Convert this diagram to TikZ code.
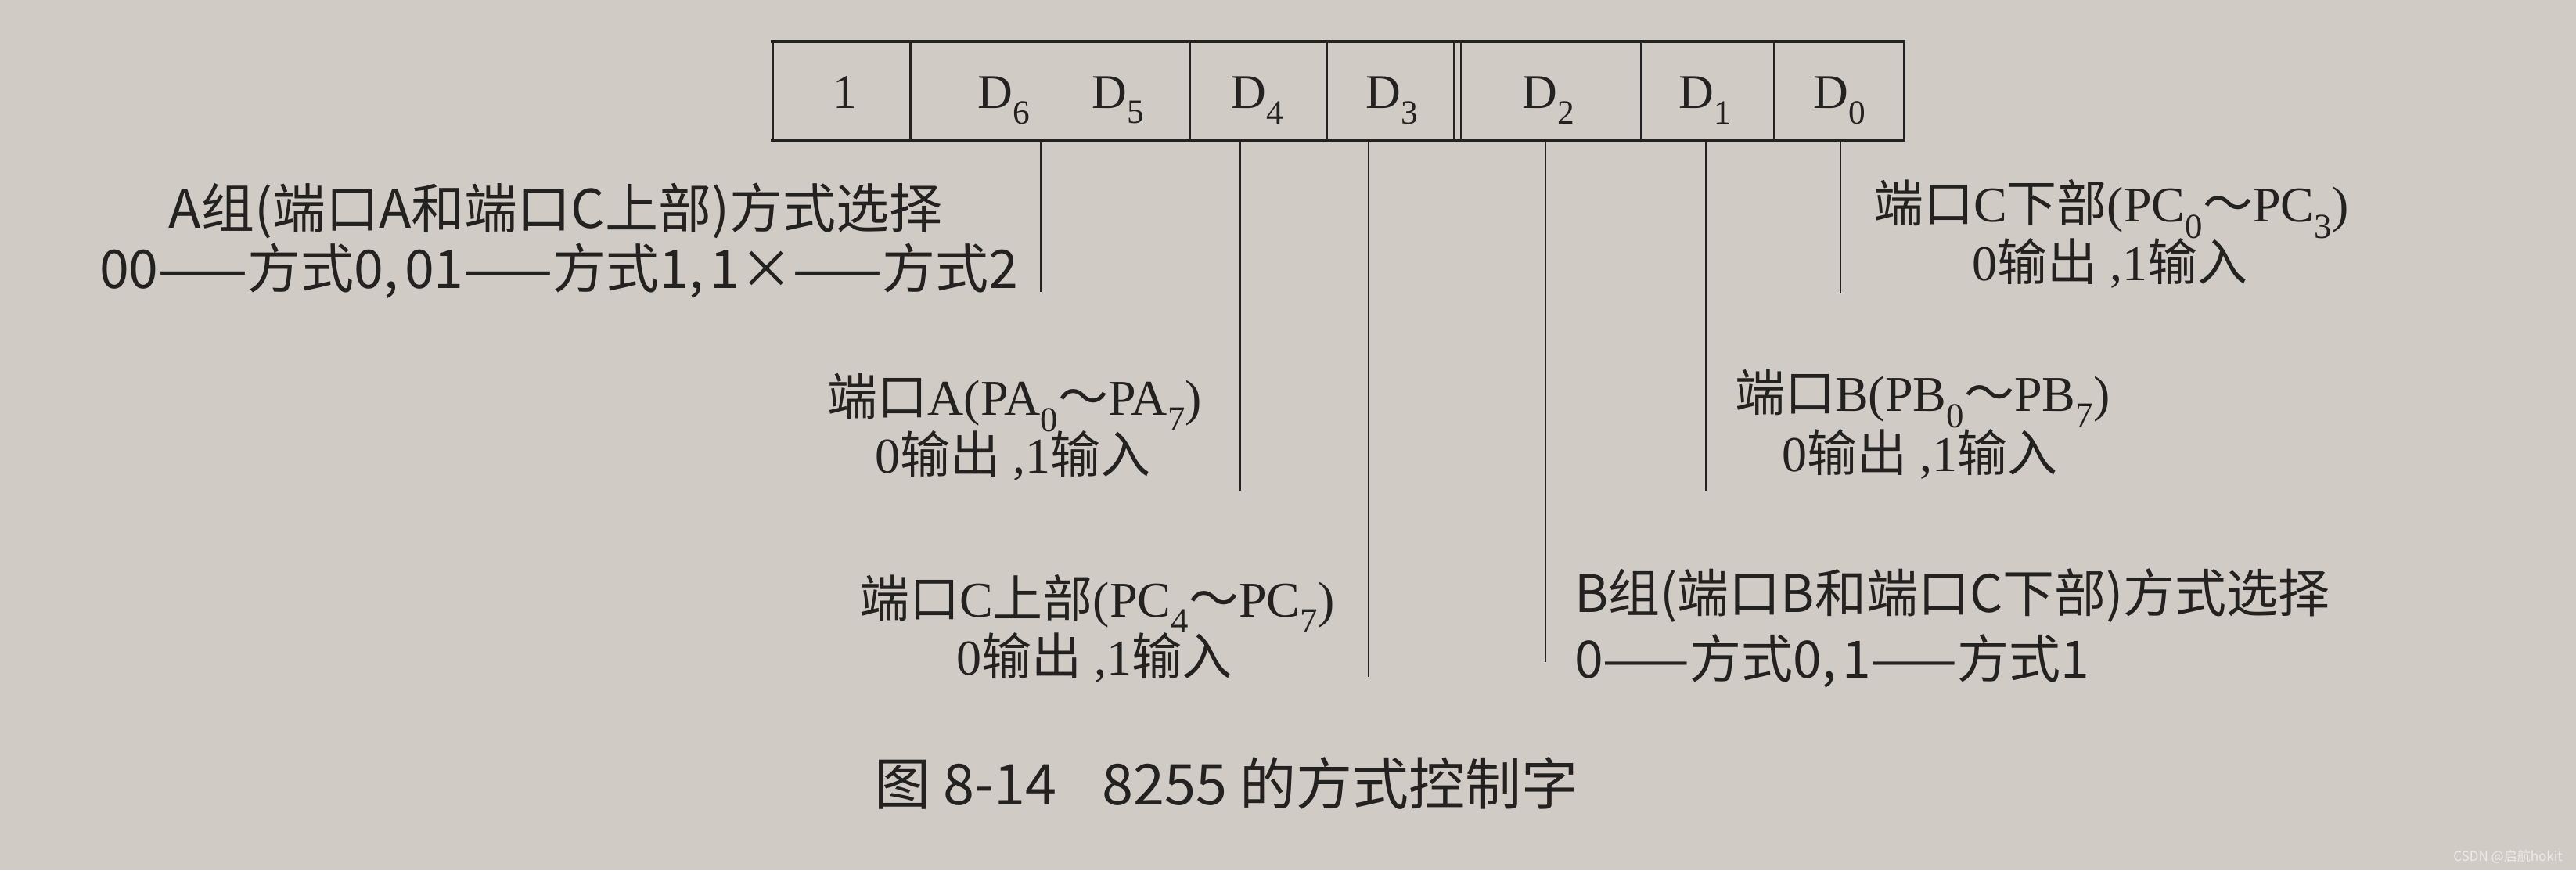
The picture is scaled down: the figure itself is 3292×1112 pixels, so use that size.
\documentclass[tikz,border=0pt]{standalone}
\usepackage{fontspec}
\setmainfont{Liberation Serif}
\newfontfamily\cjk{Noto Sans CJK SC}
\definecolor{paper}{RGB}{208,203,197}
\definecolor{ink}{RGB}{36,34,32}
\definecolor{wm}{RGB}{236,234,230}
\newcommand{\cm}{,\hspace{0.12em}}
\begin{document}
\begin{tikzpicture}[x=1pt,y=-1pt,
  txt/.style={inner sep=0pt, text=ink, anchor=base, font=\fontsize{64}{70}\selectfont},
  grptxt/.style={inner sep=0pt, text=ink, anchor=base, font=\fontsize{68}{72}\selectfont},
  captxt/.style={inner sep=0pt, text=ink, anchor=base, font=\fontsize{72}{80}\selectfont},
  bit/.style={inner sep=0pt, text=ink, anchor=base, font=\fontsize{62}{70}\selectfont},
  lead/.style={draw=ink, line width=2.8pt},
  frameline/.style={draw=ink, line width=4.5pt},
  divider/.style={draw=ink, line width=3pt}]
\fill[paper] (0,0) rectangle (3292,1112);
\useasboundingbox (0,0) rectangle (3292,1112);
% frame of the control word
\draw[frameline] (985,53) -- (2435,53);
\draw[frameline] (985,179) -- (2435,179);
\foreach \xx in {987,1163,1520,1695,1858,1867,2097,2267,2433}
  \draw[divider] (\xx,53) -- (\xx,179);
% bits
\node[bit] (b7) at (1080,138) {1};
\node[bit] (b6) at (1283,138) {D\textsubscript{6}};
\node[bit] (b5) at (1429,138) {D\textsubscript{5}};
\node[bit] (b4) at (1607,138) {D\textsubscript{4}};
\node[bit] (b3) at (1779,138) {D\textsubscript{3}};
\node[bit] (b2) at (1979,138) {D\textsubscript{2}};
\node[bit] (b1) at (2179,138) {D\textsubscript{1}};
\node[bit] (b0) at (2351,138) {D\textsubscript{0}};
% leader coordinates
\coordinate (t1) at (1330,179); \coordinate (e1) at (1330,373);
\coordinate (t2) at (1585,179); \coordinate (e2) at (1585,627);
\coordinate (t3) at (1749,179); \coordinate (e3) at (1749,865);
\coordinate (t4) at (1975,179); \coordinate (e4) at (1975,846);
\coordinate (t5) at (2180,179); \coordinate (e5) at (2180,628);
\coordinate (t6) at (2352,179); \coordinate (e6) at (2352,375);
\foreach \i in {1,...,6} \draw[lead] (t\i) -- (e\i);
% labels
\node[grptxt] (ag1) at (710,291) {\cjk A组(端口A和端口C上部)方式选择};
\node[grptxt] (ag2) at (714,368) {\cjk 00——方式0\cm 01——方式1\cm 1×——方式2};
\node[txt] (pa1) at (1297,530) {{\cjk 端口}A(PA\textsubscript{0}{\cjk ～}PA\textsubscript{7})};
\node[txt] (pa2) at (1294,604) {0{\cjk 输出} ,1{\cjk 输入}};
\node[txt] (pcu1) at (1402,788) {{\cjk 端口}C{\cjk 上部}(PC\textsubscript{4}{\cjk ～}PC\textsubscript{7})};
\node[txt] (pcu2) at (1398,862) {0{\cjk 输出} ,1{\cjk 输入}};
\node[txt] (pcl1) at (2698,283) {{\cjk 端口}C{\cjk 下部}(PC\textsubscript{0}{\cjk ～}PC\textsubscript{3})};
\node[txt] (pcl2) at (2696,358) {0{\cjk 输出} ,1{\cjk 输入}};
\node[txt] (pb1) at (2457,525) {{\cjk 端口}B(PB\textsubscript{0}{\cjk ～}PB\textsubscript{7})};
\node[txt] (pb2) at (2453,602) {0{\cjk 输出} ,1{\cjk 输入}};
\node[grptxt, font=\fontsize{66}{70}\selectfont, anchor=base west] (bg1) at (2012,782) {\cjk B组(端口B和端口C下部)方式选择};
\node[grptxt, font=\fontsize{66}{70}\selectfont, anchor=base west] (bg2) at (2012,866) {\cjk 0——方式0\cm 1——方式1};
\node[captxt] (cap) at (1567,1028) {\cjk 图 8-14\hspace{0.8em}8255 的方式控制字};
\node[inner sep=0pt, anchor=base east, text=wm, font=\fontsize{17}{20}\selectfont] (wmk) at (3275,1100) {\cjk CSDN @启航hokit};
\end{tikzpicture}
\end{document}
